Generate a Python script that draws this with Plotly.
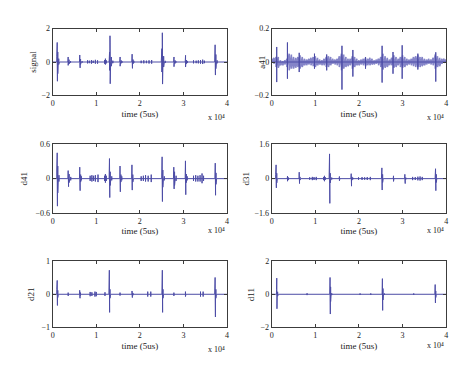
import plotly.graph_objects as go

# ---------------- data (sample index, upper excursion, lower excursion) ----------------
# panel "signal"
sig_x = [950, 1050, 1100, 1180, 1280, 1400, 1550,
         3500, 3560, 3650, 3760, 3900, 4100,
         6150, 6220, 6300, 6400, 6550, 6750,
         8000, 8400, 8900, 9300, 9800, 10300,
         11900, 12100, 12300,
         12950, 13050, 13150, 13200, 13300, 13450, 13600, 13800,
         15400, 15470, 15560, 15700, 15900,
         18150, 18220, 18300, 18420, 18600,
         20300, 20900, 21500, 22100, 22700,
         24900, 25050, 25150, 25200, 25300, 25450, 25600, 25800,
         27750, 27820, 27900, 28050, 28250,
         30400, 30470, 30550, 30700, 30900,
         32300, 32900, 33400, 33900, 34400, 34800,
         37150, 37250, 37320, 37420, 37550, 37700]
sig_hi = [0.35, 1.17, 0.7, 0.6, 0.35, 0.2, 0.1,
          0.12, 0.3, 0.2, 0.14, 0.08, 0.05,
          0.15, 0.42, 0.25, 0.18, 0.1, 0.05,
          0.1, 0.08, 0.12, 0.08, 0.13, 0.1,
          0.12, 0.2, 0.1,
          0.3, 0.6, 1.57, 0.5, 0.45, 0.3, 0.15, 0.08,
          0.12, 0.3, 0.2, 0.1, 0.05,
          0.15, 0.47, 0.25, 0.15, 0.07,
          0.08, 0.1, 0.08, 0.1, 0.12,
          0.2, 0.8, 1.75, 0.6, 0.7, 0.35, 0.15, 0.07,
          0.12, 0.3, 0.22, 0.1, 0.05,
          0.15, 0.4, 0.25, 0.12, 0.05,
          0.1, 0.08, 0.1, 0.12, 0.14, 0.08,
          0.3, 1.03, 0.6, 0.45, 0.25, 0.1]
sig_lo = [-0.3, -0.55, -1.15, -0.7, -0.3, -0.15, -0.08,
          -0.1, -0.2, -0.17, -0.12, -0.07, -0.04,
          -0.1, -0.3, -0.35, -0.15, -0.08, -0.04,
          -0.08, -0.07, -0.1, -0.06, -0.1, -0.1,
          -0.1, -0.15, -0.08,
          -0.25, -0.5, -0.4, -1.3, -0.45, -0.25, -0.12, -0.07,
          -0.1, -0.25, -0.18, -0.08, -0.04,
          -0.12, -0.3, -0.38, -0.12, -0.06,
          -0.07, -0.08, -0.07, -0.09, -0.1,
          -0.2, -0.6, -0.5, -1.32, -0.7, -0.3, -0.12, -0.06,
          -0.1, -0.28, -0.2, -0.09, -0.04,
          -0.1, -0.3, -0.28, -0.1, -0.05,
          -0.08, -0.07, -0.08, -0.1, -0.12, -0.07,
          -0.25, -0.5, -0.78, -0.4, -0.2, -0.08]

# panel "a41": slowly varying band (every 500 samples) plus spikes
a41_band_x = list(range(0, 40001, 500))
a41_band_hi = [0.02, 0.025, 0.03, 0.03, 0.01, 0.005, 0.01, 0.02, 0.05, 0.045,
               0.03, 0.025, 0.03, 0.04, 0.03, 0.02, 0.015, 0.02, 0.025, 0.03,
               0.035, 0.025, 0.015, 0.01, 0.02, 0.03, 0.035, 0.03, 0.02, 0.015,
               0.02, 0.035, 0.05, 0.045, 0.03, 0.02, 0.02, 0.035, 0.03, 0.02,
               0.01, 0.015, 0.02, 0.025, 0.02, 0.025, 0.02, 0.01, 0.015, 0.02,
               0.03, 0.05, 0.035, 0.025, 0.015, 0.025, 0.04, 0.03, 0.02, 0.03,
               0.04, 0.03, 0.02, 0.015, 0.02, 0.03, 0.035, 0.04, 0.03, 0.03,
               0.02, 0.015, 0.02, 0.015, 0.025, 0.045, 0.035, 0.025, 0.02, 0.02,
               0.015]
a41_band_lo = [0.0, -0.01, -0.03, -0.035, -0.02, -0.02, -0.015, -0.03, -0.05, -0.04,
               -0.04, -0.035, -0.03, -0.04, -0.03, -0.02, -0.02, -0.015, -0.02, -0.025,
               -0.03, -0.02, -0.015, -0.02, -0.02, -0.03, -0.03, -0.02, -0.01, -0.015,
               -0.02, -0.03, -0.05, -0.04, -0.03, -0.025, -0.02, -0.04, -0.03, -0.02,
               -0.02, -0.015, -0.02, -0.025, -0.02, -0.02, -0.015, -0.015, -0.01, -0.02,
               -0.03, -0.045, -0.035, -0.03, -0.02, -0.02, -0.035, -0.03, -0.02, -0.03,
               -0.035, -0.03, -0.02, -0.015, -0.02, -0.025, -0.03, -0.03, -0.03, -0.025,
               -0.02, -0.015, -0.01, -0.015, -0.02, -0.04, -0.03, -0.025, -0.01, -0.005,
               0.0]
a41_spk_x = [1140, 3600, 6300, 9800, 12600, 16100, 18600, 21500, 25300, 27800,
             29900, 33500, 37600]
a41_spk_hi = [0.09, 0.117, 0.055, 0.05, 0.045, 0.097, 0.072, 0.03, 0.097, 0.06,
              0.1, 0.05, 0.058]
a41_spk_lo = [-0.12, -0.1, -0.06, -0.04, -0.05, -0.165, -0.087, -0.04, -0.123, -0.07,
              -0.1, -0.045, -0.117]

# panel "d41"
d41_x = [950, 1050, 1100, 1180, 1300, 1450,
         3500, 3560, 3650, 3780, 3950, 4150,
         6150, 6220, 6300, 6420, 6600,
         8600, 9000, 9400, 9800, 10400,
         11900, 12100, 12300,
         12950, 13030, 13100, 13200, 13350, 13550,
         15400, 15450, 15520, 15650, 15850,
         18120, 18180, 18250, 18380, 18550,
         20300, 20800, 21300, 21900, 22600,
         25000, 25100, 25170, 25260, 25400, 25600,
         27700, 27780, 27850, 27950, 28100, 28300,
         30380, 30450, 30520, 30650, 30850,
         32300, 32800, 33300, 33800, 34250, 34600,
         37200, 37280, 37350, 37450, 37600]
d41_hi = [0.15, 0.45, 0.2, 0.22, 0.12, 0.06,
          0.05, 0.14, 0.11, 0.08, 0.05, 0.03,
          0.06, 0.2, 0.1, 0.07, 0.04,
          0.05, 0.06, 0.05, 0.06, 0.07,
          0.05, 0.08, 0.05,
          0.12, 0.35, 0.15, 0.12, 0.07, 0.04,
          0.06, 0.22, 0.1, 0.07, 0.04,
          0.06, 0.24, 0.1, 0.07, 0.04,
          0.04, 0.05, 0.06, 0.05, 0.07,
          0.12, 0.38, 0.2, 0.15, 0.08, 0.04,
          0.1, 0.2, 0.14, 0.12, 0.1, 0.05,
          0.1, 0.31, 0.15, 0.08, 0.04,
          0.05, 0.06, 0.05, 0.06, 0.09, 0.05,
          0.1, 0.27, 0.15, 0.1, 0.05]
d41_lo = [-0.1, -0.2, -0.48, -0.25, -0.1, -0.05,
          -0.05, -0.1, -0.14, -0.07, -0.04, -0.03,
          -0.05, -0.12, -0.21, -0.06, -0.03,
          -0.04, -0.05, -0.04, -0.05, -0.06,
          -0.04, -0.07, -0.04,
          -0.1, -0.15, -0.33, -0.12, -0.06, -0.03,
          -0.05, -0.1, -0.23, -0.06, -0.03,
          -0.05, -0.1, -0.2, -0.06, -0.03,
          -0.04, -0.04, -0.05, -0.05, -0.06,
          -0.1, -0.2, -0.4, -0.15, -0.07, -0.03,
          -0.08, -0.12, -0.18, -0.12, -0.08, -0.04,
          -0.08, -0.12, -0.28, -0.07, -0.03,
          -0.04, -0.05, -0.05, -0.05, -0.08, -0.04,
          -0.08, -0.12, -0.29, -0.1, -0.04]

# panel "d31"
d31_x = [900, 1000, 1060, 1150, 1280,
         3550, 3620, 3720, 3850,
         6250, 6300, 6370, 6480, 6650,
         8700, 9300, 9700, 10200,
         11900, 12100, 12300,
         13150, 13250, 13320, 13420, 13550, 13750,
         15450, 15520, 15620,
         18150, 18220, 18290, 18400, 18600,
         19900, 20700, 21300, 21900, 22600,
         25150, 25250, 25320, 25420, 25550,
         27850, 27920, 28020,
         30450, 30520, 30600, 30720,
         32300, 32900, 33500, 34000, 34500,
         37450, 37550, 37620, 37720, 37850]
d31_hi = [0.2, 0.64, 0.3, 0.25, 0.1,
          0.08, 0.12, 0.1, 0.05,
          0.1, 0.3, 0.12, 0.08, 0.04,
          0.06, 0.08, 0.07, 0.08,
          0.08, 0.13, 0.06,
          0.3, 1.15, 0.4, 0.25, 0.12, 0.05,
          0.08, 0.1, 0.07,
          0.1, 0.23, 0.12, 0.08, 0.04,
          0.06, 0.07, 0.06, 0.07, 0.08,
          0.2, 0.5, 0.3, 0.2, 0.1,
          0.1, 0.13, 0.08,
          0.08, 0.2, 0.1, 0.05,
          0.08, 0.07, 0.09, 0.1, 0.08,
          0.2, 0.46, 0.3, 0.2, 0.08]
d31_lo = [-0.15, -0.3, -0.43, -0.2, -0.08,
          -0.07, -0.12, -0.1, -0.05,
          -0.08, -0.15, -0.23, -0.07, -0.03,
          -0.05, -0.07, -0.06, -0.07,
          -0.07, -0.12, -0.05,
          -0.25, -0.4, -1.15, -0.2, -0.1, -0.04,
          -0.06, -0.1, -0.06,
          -0.08, -0.15, -0.35, -0.07, -0.03,
          -0.05, -0.06, -0.05, -0.06, -0.07,
          -0.2, -0.3, -0.53, -0.18, -0.08,
          -0.1, -0.13, -0.07,
          -0.07, -0.12, -0.23, -0.04,
          -0.07, -0.06, -0.08, -0.09, -0.07,
          -0.2, -0.3, -0.56, -0.18, -0.07]

# panel "d21"
d21_x = [950, 1050, 1100, 1180, 1300,
         3560, 3650,
         6200, 6280, 6380,
         8600, 9000, 9700, 10000,
         12000,
         12900, 13000, 13060, 13150, 13300,
         15450,
         18200, 18280, 18400,
         21800, 22500,
         25050, 25150, 25210, 25300, 25450,
         27800,
         30450, 30550,
         33900, 34500,
         37150, 37250, 37320, 37420, 37550]
d21_hi = [0.15, 0.42, 0.2, 0.12, 0.06,
          0.05, 0.04,
          0.12, 0.1, 0.05,
          0.07, 0.06, 0.08, 0.07,
          0.06,
          0.2, 0.73, 0.3, 0.15, 0.06,
          0.05,
          0.1, 0.08, 0.04,
          0.08, 0.08,
          0.2, 0.73, 0.3, 0.15, 0.06,
          0.05,
          0.08, 0.05,
          0.08, 0.08,
          0.2, 0.51, 0.3, 0.15, 0.06]
d21_lo = [-0.12, -0.15, -0.34, -0.1, -0.05,
          -0.05, -0.03,
          -0.1, -0.12, -0.04,
          -0.06, -0.05, -0.07, -0.06,
          -0.05,
          -0.15, -0.2, -0.55, -0.12, -0.05,
          -0.04,
          -0.08, -0.1, -0.03,
          -0.07, -0.07,
          -0.15, -0.25, -0.55, -0.12, -0.05,
          -0.05,
          -0.07, -0.05,
          -0.07, -0.07,
          -0.15, -0.3, -0.69, -0.12, -0.05]

# panel "d11"
d11_x = [1100, 1150, 1200, 1260, 1350, 1500,
         8100,
         13300, 13370, 13430, 13500, 13600, 13750,
         20250, 22700,
         25300, 25370, 25430, 25500, 25620, 25800,
         32550,
         37400, 37470, 37530, 37600, 37720]
d11_hi = [0.3, 0.98, 0.35, 0.3, 0.15, 0.05,
          0.06,
          0.5, 1.02, 0.5, 0.45, 0.2, 0.06,
          0.05, 0.05,
          0.35, 0.95, 0.4, 0.35, 0.15, 0.05,
          0.05,
          0.2, 0.59, 0.3, 0.2, 0.06]
d11_lo = [-0.25, -0.35, -0.88, -0.3, -0.12, -0.05,
          -0.05,
          -0.4, -0.5, -1.2, -0.45, -0.2, -0.05,
          -0.04, -0.04,
          -0.3, -0.4, -0.98, -0.35, -0.12, -0.04,
          -0.04,
          -0.2, -0.25, -0.53, -0.2, -0.05]

panel_names = ["signal", "a41", "d41", "d31", "d21", "d11"]
panel_limits = [2, 0.2, 0.6, 1.6, 1, 2]
x_tick_vals = [0, 10000, 20000, 30000, 40000]
x_tick_text = ["0", "1", "2", "3", "4"]
x_title = "time (5us)"
x_mult = "x 10\u2074"
x_max = 40000

# ---------------- layout geometry (window pixel coordinates) ----------------
OFF = 8                      # page body margin
W, H = 474 - OFF, 381 - OFF  # figure size so it fills the window
col_px = [(51, 227), (272, 448)]
row_px = [(25, 93.5), (143.5, 214), (263.5, 331)]
ylabel_px = [31, 262, 22, 246, 29, 251]
xmult_py = [116, 116, 232, 232, 354, 350]

LINE = "#4c4ca6"
BAND = "#8484c8"
AX = "#3c3c3c"
TXT = "#222222"
FONT = "Liberation Serif"


def fx(px):
    return (px - OFF) / W


def fy(py):
    return 1 - (py - OFF) / H


def spikes(xs, his, los):
    pts = sorted(zip(xs, his, los))
    X, Y = [0], [0]
    for x, h, l in pts:
        X += [x, x, x, x]
        Y += [0, h, l, 0]
    X.append(x_max)
    Y.append(0)
    return X, Y


def band(xs, his, los):
    pts = sorted(zip(xs, his, los))
    X, Y = [], []
    for x, h, l in pts:
        X += [x, x]
        Y += [h, l]
    return X, Y


series = [
    [(spikes(sig_x, sig_hi, sig_lo), LINE, 1)],
    [(band(a41_band_x, a41_band_hi, a41_band_lo), BAND, 1.6),
     (spikes(a41_spk_x, a41_spk_hi, a41_spk_lo), LINE, 1)],
    [(spikes(d41_x, d41_hi, d41_lo), LINE, 1)],
    [(spikes(d31_x, d31_hi, d31_lo), LINE, 1)],
    [(spikes(d21_x, d21_hi, d21_lo), LINE, 1)],
    [(spikes(d11_x, d11_hi, d11_lo), LINE, 1)],
]

fig = go.Figure()
layout = dict(width=W, height=H, margin=dict(l=0, r=0, t=0, b=0),
              paper_bgcolor="white", plot_bgcolor="white", showlegend=False,
              font=dict(family=FONT, size=8, color=TXT))
annotations = []

for i in range(6):
    r, c = divmod(i, 2)
    xk = "xaxis" if i == 0 else f"xaxis{i+1}"
    yk = "yaxis" if i == 0 else f"yaxis{i+1}"
    xr = "x" if i == 0 else f"x{i+1}"
    yr = "y" if i == 0 else f"y{i+1}"
    for (X, Y), col, wd in series[i]:
        fig.add_trace(go.Scatter(x=X, y=Y, mode="lines", xaxis=xr, yaxis=yr,
                                 line=dict(color=col, width=wd), hoverinfo="skip"))
    x0, x1 = col_px[c]
    t, b = row_px[r]
    lim = panel_limits[i]
    layout[xk] = dict(domain=[fx(x0), fx(x1)], anchor=yr, range=[0, x_max],
                      tickvals=x_tick_vals, ticktext=x_tick_text,
                      ticks="inside", ticklen=3, tickcolor=AX, showline=True,
                      linecolor=AX, linewidth=1, mirror="ticks", showgrid=False,
                      zeroline=False, tickfont=dict(family=FONT, size=8, color=TXT),
                      title=dict(text=x_title, standoff=3,
                                 font=dict(family=FONT, size=9, color=TXT)))
    lim_txt = f"{lim:g}"
    layout[yk] = dict(domain=[fy(b), fy(t)], anchor=xr, range=[-lim, lim],
                      tickvals=[-lim, 0, lim], ticktext=["\u2212" + lim_txt, "0", lim_txt],
                      ticks="inside", ticklen=3, tickcolor=AX, showline=True,
                      linecolor=AX, linewidth=1, mirror="ticks", showgrid=False,
                      zeroline=False, tickfont=dict(family=FONT, size=8, color=TXT))
    annotations.append(dict(text=panel_names[i], x=fx(ylabel_px[i]), y=fy((t + b) / 2),
                            xref="paper", yref="paper", showarrow=False, textangle=-90,
                            xanchor="center", yanchor="middle",
                            font=dict(family=FONT, size=9, color=TXT)))
    annotations.append(dict(text=x_mult, x=fx(x1), y=fy(xmult_py[i]),
                            xref="paper", yref="paper", showarrow=False,
                            xanchor="right", yanchor="middle",
                            font=dict(family=FONT, size=8, color=TXT)))

layout["annotations"] = annotations
fig.update_layout(**layout)
fig.write_html("out.html")
